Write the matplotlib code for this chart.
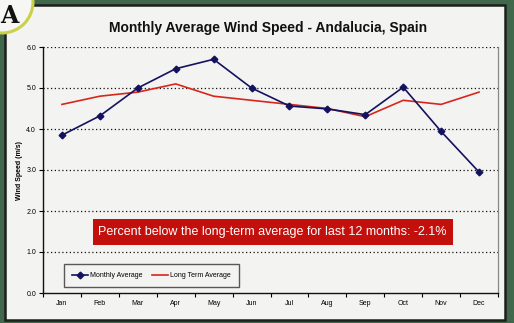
import matplotlib
matplotlib.use("Agg")
import matplotlib.pyplot as plt
from matplotlib.patches import Rectangle, Ellipse
from matplotlib.lines import Line2D

months = ["Jan", "Feb", "Mar", "Apr", "May", "Jun", "Jul", "Aug", "Sep", "Oct", "Nov", "Dec"]
monthly_avg = [3.85, 4.32, 5.0, 5.47, 5.70, 5.0, 4.56, 4.49, 4.35, 5.02, 3.94, 2.95]
long_term_avg = [4.6, 4.8, 4.9, 5.1, 4.8, 4.7, 4.6, 4.5, 4.3, 4.7, 4.6, 4.9]
y_ticks = [0.0, 1.0, 2.0, 3.0, 4.0, 5.0, 6.0]

plt.rcParams['font.family'] = ['Liberation Sans', 'DejaVu Sans']

W, H = 514, 323
fig = plt.figure(figsize=(W / 100, H / 100), dpi=100)
fig.patch.set_facecolor("#40684a")

# white panel
panel = Rectangle((5 / W, 1 - 320 / H), 500 / W, 315 / H, transform=fig.transFigure,
                  facecolor="#f3f3f1", edgecolor="#1e1e1e", linewidth=1.8, zorder=-10)
fig.patches.append(panel)

ax = fig.add_axes([43 / W, 1 - 293 / H, 455 / W, 246 / H])
ax.set_facecolor("#f3f3f1")
ax.set_zorder(1)

x = list(range(len(months)))
ax.plot(x, long_term_avg, color="#d8261c", linewidth=1.2, zorder=3)
ax.plot(x, monthly_avg, color="#14125e", linewidth=1.2, marker="D", markersize=3.4, zorder=4)

ax.set_xlim(-0.5, len(months) - 0.5)
ax.set_ylim(0, 6.0)
ax.set_yticks(y_ticks)
ax.set_yticklabels([f"{v:.1f}" for v in y_ticks], fontsize=5)
ax.set_xticks(x)
ax.set_xticklabels(months, fontsize=5)
ax.set_xticks([i + 0.5 for i in range(-1, len(months))], minor=True)
ax.tick_params(axis="x", which="major", length=0, pad=5)
ax.tick_params(axis="x", which="minor", length=3, width=0.8, direction="out")
ax.tick_params(axis="y", length=3, width=0.8, direction="out", pad=2)

for v in y_ticks[1:]:
    ax.axhline(v, color="#111111", linewidth=0.9, linestyle=(0, (1, 2)), zorder=1)

for s in ["left", "bottom"]:
    ax.spines[s].set_color("#111111")
    ax.spines[s].set_linewidth(1.0)
ax.spines["top"].set_visible(False)
ax.spines["right"].set_color("#888888")
ax.spines["right"].set_linewidth(0.9)

ax.set_ylabel("Wind Speed (m/s)", fontsize=5, fontweight="bold", labelpad=2)

# title
fig.text(268 / W, 1 - 28 / H, "Monthly Average Wind Speed - Andalucia, Spain",
         ha="center", va="center", fontsize=10, fontweight="bold", color="#111111")

# red annotation box (drawn in the axes, above lines)
ax.add_patch(Rectangle((93 / W, 1 - 245 / H), 360 / W, 26 / H, transform=fig.transFigure,
                       facecolor="#c4100c", edgecolor="none", zorder=5))
ax.text(272 / W, 1 - 232 / H,
        "Percent below the long-term average for last 12 months: -2.1%",
        transform=fig.transFigure,
        ha="center", va="center", fontsize=9, color="white", zorder=6)

# legend
handles = [Line2D([], [], color="#14125e", marker="D", markersize=3.4, linewidth=1.2),
           Line2D([], [], color="#d8261c", linewidth=1.2)]
leg = ax.legend(handles, ["Monthly Average", "Long Term Average"], loc="lower left",
                bbox_to_anchor=(21 / 455, 6 / 246),
                ncol=2, fontsize=5, frameon=True, fancybox=False, handlelength=2.3,
                handletextpad=0.3, columnspacing=1.4, borderaxespad=0, borderpad=1.15)
leg.get_frame().set_edgecolor("#333333")
leg.get_frame().set_linewidth(1.0)
leg.get_frame().set_facecolor("#f3f3f1")

# badge circle with "A"
r = 31
fig.patches.append(Ellipse((2 / W, 1 - 2 / H), 2 * r / W, 2 * r / H, transform=fig.transFigure,
                           facecolor="#f6f6f2", edgecolor="#c9d146", linewidth=2.2, zorder=7))
fig.text(0 / W, 1 - 16 / H, "A", ha="left", va="center", fontsize=17, fontweight="bold",
         family="DejaVu Serif", color="#111111", zorder=8)

fig.savefig("out.png", dpi=100, facecolor=fig.get_facecolor())
